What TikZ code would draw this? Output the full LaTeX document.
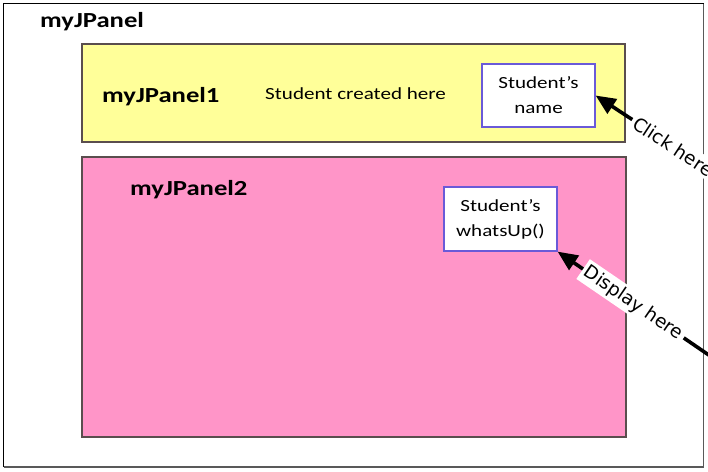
\documentclass[tikz,border=0pt]{standalone}
\usepackage{fontspec}
\usepackage{graphicx}
\setmainfont{Carlito}
\newfontfamily\arrowfont{DejaVu Sans}
\usetikzlibrary{arrows.meta}
\definecolor{panelyellow}{HTML}{FFFF99}
\definecolor{panelpink}{HTML}{FF95C8}
\definecolor{panelline}{HTML}{5A4E4E}
\definecolor{boxline}{HTML}{6A5AD8}
\newcommand{\wide}[1]{\scalebox{1.24}[1]{#1}}
\tikzset{
  panel/.style={draw=panelline, line width=1.2pt},
  titletext/.style={anchor=base west, inner sep=0pt, font=\fontsize{21.5}{24}\selectfont\bfseries},
  plaintext/.style={anchor=base west, inner sep=0pt, font=\fontsize{17}{20}\selectfont},
  studentbox/.style={draw=boxline, fill=white, line width=1.2pt, align=center, inner sep=0pt,
    font=\fontsize{17}{25}\selectfont},
  pointer/.style={line width=3.6pt, {Triangle[length=20pt,width=17pt]}-},
  pointerlabel/.style={sloped, fill=white, inner sep=3pt, font=\arrowfont\fontsize{18.5}{20}\selectfont}
}
\begin{document}
\begin{tikzpicture}[x=1pt, y=-1pt]
\useasboundingbox (0,0) rectangle (708,471);
\clip (0,0) rectangle (708,471);
% outer panel
\fill[white] (0,0) rectangle (708,471);
\draw[line width=1.6pt, black] (3.5,467) -- (3.5,3.5) -- (703.5,3.5);
\draw[line width=1.6pt, black!65] (3.5,467) -- (703.5,467) -- (703.5,3.5);
\node[titletext] (outer) at (40,27) {\wide{myJPanel}};
% panel 1
\draw[panel, fill=panelyellow] (82,44) rectangle (625,142);
\node[titletext] (p1) at (102,102) {\wide{myJPanel1}};
\node[plaintext] (created) at (265,99) {\wide{Student created here}};
\node[studentbox, minimum width=113pt, minimum height=63pt] (namebox) at (538.5,95.5)
  {\wide{Student’s}\\\wide{name}};
% panel 2
\draw[panel, fill=panelpink] (82,157) rectangle (626,437);
\node[titletext] (p2) at (130,195) {\wide{myJPanel2}};
\node[studentbox, minimum width=113pt, minimum height=64pt] (whatsbox) at (500.5,219)
  {\wide{Student’s}\\\wide{whatsUp()}};
% pointers
\coordinate (clickend) at (754,199.5);
\coordinate (displayend) at (738,375);
\draw[pointer] (namebox.east) -- node[pointerlabel, pos=0.49] (clicklabel) {Click here} (clickend);
\draw[pointer] (whatsbox.south east) -- node[pointerlabel, pos=0.42] (displaylabel) {Display here} (displayend);
\end{tikzpicture}
\end{document}
